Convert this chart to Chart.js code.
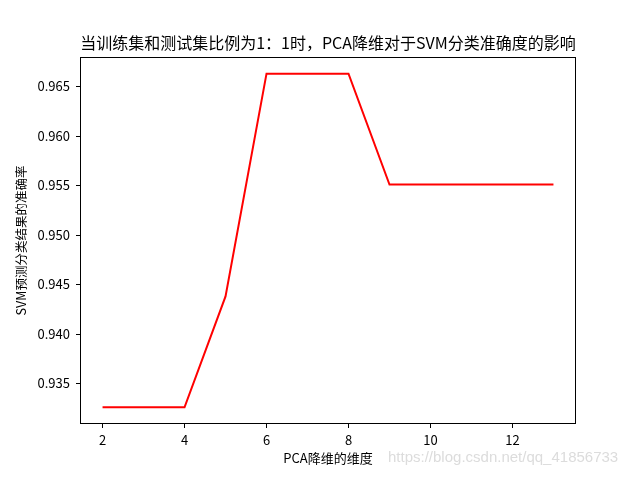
<!DOCTYPE html>
<html>
<head>
<meta charset="utf-8">
<script src="https://cdn.jsdelivr.net/npm/chart.js@4/dist/chart.umd.min.js"></script>
<style>
  html, body { margin: 0; padding: 0; background: #fff; }
  #wrap { width: 640px; height: 477px; }
</style>
</head>
<body>
<div id="wrap"><canvas id="chart" width="640" height="477"></canvas></div>
<script>
// PCA dimensions and SVM accuracy
const dims = [2, 3, 4, 5, 6, 7, 8, 9, 10, 11, 12, 13];
const accuracy = [0.9326, 0.9326, 0.9326, 0.9438, 0.9663, 0.9663, 0.9663, 0.9551, 0.9551, 0.9551, 0.9551, 0.9551];
const xTicks = [2, 4, 6, 8, 10, 12];
const yTicks = [0.935, 0.940, 0.945, 0.950, 0.955, 0.960, 0.965];

const titleText = "当训练集和测试集比例为1：1时，PCA降维对于SVM分类准确度的影响";
const xLabel = "PCA降维的维度";
const yLabel = "SVM预测分类结果的准确率";
const watermark = "https://blog.csdn.net/qq_41856733";

const FONT = "'Noto Sans CJK SC', 'DejaVu Sans', sans-serif";

// frame, title and watermark drawn on top
const extras = {
  id: "extras",
  afterDraw(chart) {
    const { ctx, chartArea: a } = chart;
    ctx.save();
    ctx.strokeStyle = "#000";
    ctx.lineWidth = 1;
    ctx.strokeRect(a.left + 0.5, a.top + 0.5, a.right - a.left - 1, a.bottom - a.top - 1);

    ctx.fillStyle = "#000";
    ctx.font = "16px " + FONT;
    ctx.textAlign = "center";
    ctx.textBaseline = "middle";
    ctx.fillText(titleText, (a.left + a.right) / 2, 43);

    ctx.fillStyle = "#dcdcdc";
    ctx.font = "15px 'Liberation Sans', sans-serif";
    ctx.textAlign = "left";
    ctx.fillText(watermark, 388, 458);
    ctx.restore();
  }
};

const ctx = document.getElementById("chart").getContext("2d");
new Chart(ctx, {
  type: "line",
  data: {
    labels: dims,
    datasets: [{
      data: dims.map((d, i) => ({ x: d, y: accuracy[i] })),
      borderColor: "#ff0000",
      borderWidth: 2,
      pointRadius: 0,
      tension: 0,
      fill: false
    }]
  },
  options: {
    responsive: false,
    animation: false,
    devicePixelRatio: 1,
    layout: { padding: { top: 57, right: 64, left: 0, bottom: 0 } },
    plugins: {
      legend: { display: false },
      tooltip: { enabled: false }
    },
    scales: {
      x: {
        type: "linear",
        min: 1.45,
        max: 13.55,
        afterBuildTicks: (s) => { s.ticks = xTicks.map(v => ({ value: v })); },
        afterFit: (s) => { s.height = 53; },
        grid: { drawOnChartArea: false, drawTicks: true, tickLength: 4, color: "#000" },
        border: { display: false },
        ticks: {
          color: "#000",
          padding: 4,
          maxRotation: 0,
          font: { family: FONT, size: 13 },
          callback: (v) => String(v)
        },
        title: {
          display: true,
          text: xLabel,
          color: "#000",
          font: { family: FONT, size: 13 },
          padding: { top: 0, bottom: 11 }
        }
      },
      y: {
        type: "linear",
        min: 0.930915,
        max: 0.967985,
        afterBuildTicks: (s) => { s.ticks = yTicks.map(v => ({ value: v })); },
        afterFit: (s) => { s.width = 80; },
        grid: { drawOnChartArea: false, drawTicks: true, tickLength: 4, color: "#000" },
        border: { display: false },
        ticks: {
          color: "#000",
          padding: 6,
          font: { family: FONT, size: 13 },
          callback: (v) => v.toFixed(3)
        },
        title: {
          display: true,
          text: yLabel,
          color: "#000",
          font: { family: FONT, size: 12.5 },
          padding: { top: 14, bottom: 0 }
        }
      }
    }
  },
  plugins: [extras]
});
</script>
</body>
</html>
